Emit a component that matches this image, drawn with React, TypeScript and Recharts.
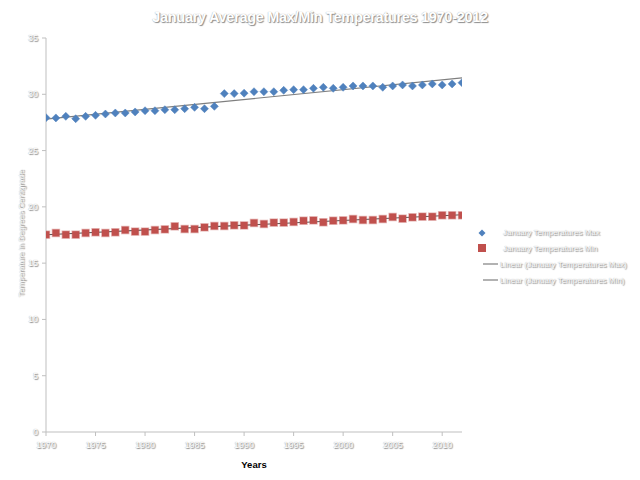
import { ScatterChart, Scatter, XAxis, YAxis } from 'recharts';

const years = [
  1970, 1971, 1972, 1973, 1974, 1975, 1976, 1977, 1978, 1979,
  1980, 1981, 1982, 1983, 1984, 1985, 1986, 1987, 1988, 1989,
  1990, 1991, 1992, 1993, 1994, 1995, 1996, 1997, 1998, 1999,
  2000, 2001, 2002, 2003, 2004, 2005, 2006, 2007, 2008, 2009,
  2010, 2011, 2012,
];

const maxTemps = [
  27.92, 27.9, 28.04, 27.83, 28.04, 28.13, 28.25, 28.34, 28.34, 28.43,
  28.54, 28.54, 28.63, 28.63, 28.72, 28.84, 28.72, 28.93, 30.06, 30.06,
  30.1, 30.23, 30.23, 30.23, 30.35, 30.41, 30.41, 30.53, 30.62, 30.53,
  30.62, 30.74, 30.74, 30.74, 30.62, 30.74, 30.83, 30.74, 30.83, 30.92,
  30.83, 30.92, 31.03,
];

const minTemps = [
  17.53, 17.68, 17.53, 17.53, 17.68, 17.74, 17.68, 17.74, 17.94, 17.8,
  17.8, 17.94, 18.0, 18.27, 18.03, 18.03, 18.18, 18.3, 18.3, 18.36,
  18.35, 18.57, 18.48, 18.6, 18.6, 18.66, 18.77, 18.8, 18.63, 18.77,
  18.8, 18.92, 18.83, 18.83, 18.92, 19.1, 18.95, 19.07, 19.13, 19.13,
  19.25, 19.25, 19.25,
];

// trend line end points
const trendYears = [1970, 2012];
const maxTrend = [27.8, 31.45];
const minTrend = [17.52, 19.3];

const xTicks = [1970, 1975, 1980, 1985, 1990, 1995, 2000, 2005, 2010];
const yTicks = [0, 5, 10, 15, 20, 25, 30, 35];

const legendLabels = [
  'January Temperatures Max',
  'January Temperatures Min',
  'Linear (January Temperatures Max)',
  'Linear (January Temperatures Min)',
];

const BLUE = '#4f81bd';
const RED = '#c0504d';
const FONT = '"Liberation Sans Narrow", "Liberation Sans", Arial, sans-serif';
const SHADOW = '1px 1px 1px #8c8c8c, 0 0 1px #9a9a9a';

const maxData = years.map((y, i) => ({ year: y, t: maxTemps[i] }));
const minData = years.map((y, i) => ({ year: y, t: minTemps[i] }));
const maxTrendData = trendYears.map((y, i) => ({ year: y, t: maxTrend[i] }));
const minTrendData = trendYears.map((y, i) => ({ year: y, t: minTrend[i] }));

const Diamond = (props: any) => {
  const { cx, cy } = props;
  const r = 4;
  return (
    <path
      d={`M${cx},${cy - r}L${cx + r},${cy}L${cx},${cy + r}L${cx - r},${cy}Z`}
      fill={BLUE}
      stroke={BLUE}
      strokeOpacity={0.5}
      strokeWidth={1}
    />
  );
};

const Square = (props: any) => {
  const { cx, cy } = props;
  const s = 7;
  return (
    <rect
      x={cx - s / 2}
      y={cy - s / 2}
      width={s}
      height={s}
      fill={RED}
      stroke={RED}
      strokeOpacity={0.4}
      strokeWidth={1.5}
    />
  );
};

const NoDot = () => <g />;

const XTick = (props: any) => {
  const { x, y, payload } = props;
  return (
    <text
      x={x}
      y={y + 10}
      textAnchor="middle"
      fill="#ffffff"
      fontSize={9}
      fontFamily={FONT}
      style={{ textShadow: SHADOW }}
    >
      {payload.value}
    </text>
  );
};

const YTick = (props: any) => {
  const { x, y, payload } = props;
  return (
    <text
      x={x - 2}
      y={y + 3}
      textAnchor="end"
      fill="#ffffff"
      fontSize={9}
      fontFamily={FONT}
      style={{ textShadow: SHADOW }}
    >
      {payload.value}
    </text>
  );
};

export default function App() {
  return (
    <div style={{ position: 'absolute', left: 0, top: 0, width: 640, height: 480, background: '#fff' }}>
      <div
        style={{
          position: 'absolute',
          left: 0,
          top: 9,
          width: 640,
          textAlign: 'center',
          fontFamily: FONT,
          fontSize: 14.5,
          fontWeight: 600,
          letterSpacing: -0.3,
          color: '#fff',
          textShadow: SHADOW,
        }}
      >
        January Average Max/Min Temperatures 1970-2012
      </div>

      <div
        style={{
          position: 'absolute',
          left: 21,
          top: 234,
          transform: 'translate(-50%, -50%) rotate(-90deg)',
          whiteSpace: 'nowrap',
          fontFamily: FONT,
          fontSize: 8,
          color: '#fff',
          textShadow: SHADOW,
        }}
      >
        Temperature in Degrees Centigrade
      </div>

      <div
        style={{
          position: 'absolute',
          left: 254,
          top: 459,
          transform: 'translateX(-50%)',
          fontFamily: FONT,
          fontSize: 9.5,
          fontWeight: 'bold',
          color: '#000',
        }}
      >
        Years
      </div>

      <ScatterChart
        width={640}
        height={480}
        margin={{ top: 38, right: 178, bottom: 18, left: 16 }}
      >
        <XAxis
          type="number"
          dataKey="year"
          domain={[1970, 2012]}
          ticks={xTicks}
          allowDataOverflow
          height={30}
          stroke="#bfbfbf"
          tickSize={4}
          tick={<XTick />}
        />
        <YAxis
          type="number"
          dataKey="t"
          domain={[0, 35]}
          ticks={yTicks}
          width={30}
          stroke="#bfbfbf"
          tickSize={4}
          tick={<YTick />}
        />
        <Scatter
          data={maxTrendData}
          line={{ stroke: '#7f7f7f', strokeWidth: 1.2 }}
          shape={<NoDot />}
          isAnimationActive={false}
        />
        <Scatter
          data={minTrendData}
          line={{ stroke: '#595959', strokeWidth: 1.2 }}
          shape={<NoDot />}
          isAnimationActive={false}
        />
        <Scatter data={maxData} shape={<Diamond />} isAnimationActive={false} />
        <Scatter data={minData} shape={<Square />} isAnimationActive={false} />
      </ScatterChart>

      <div style={{ position: 'absolute', left: 476, top: 225, fontFamily: FONT, fontSize: 8, color: '#fff' }}>
        {legendLabels.map((label, i) => (
          <div key={label} style={{ display: 'flex', alignItems: 'center', height: i === 0 ? 15 : 16 }}>
            <svg width={24} height={10} style={{ flex: 'none' }}>
              {i === 0 && <path d="M6,1.5L9.5,5L6,8.5L2.5,5Z" fill={BLUE} />}
              {i === 1 && <rect x={2} y={1} width={8} height={8} fill={RED} />}
              {i === 2 && <line x1={7} y1={5} x2={22} y2={5} stroke="#7f7f7f" strokeWidth={1.2} />}
              {i === 3 && <line x1={7} y1={5} x2={22} y2={5} stroke="#7f7f7f" strokeWidth={1.2} />}
            </svg>
            <span style={{ textShadow: SHADOW, whiteSpace: 'nowrap', marginLeft: i < 2 ? 3 : 0 }}>{label}</span>
          </div>
        ))}
      </div>
    </div>
  );
}
